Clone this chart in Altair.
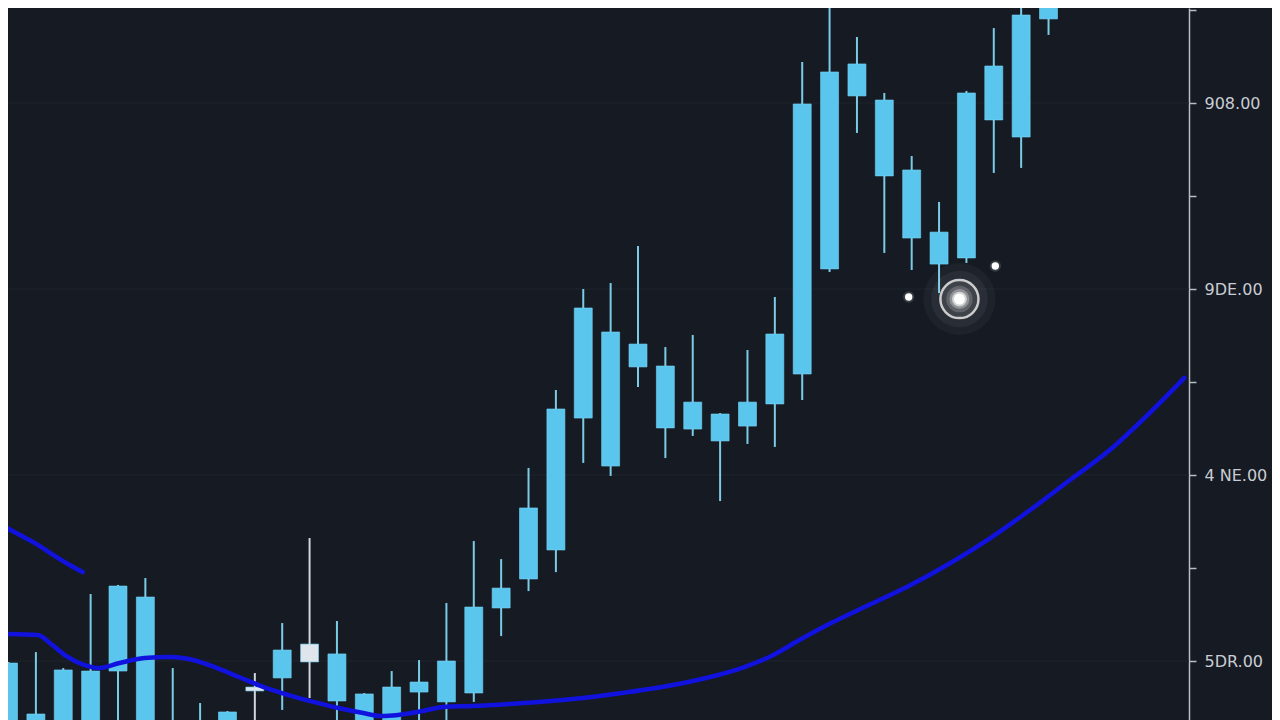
import altair as alt
import pandas as pd

# ---- candle data (index along time, prices) ----
idx = [0, 1, 2, 3, 4, 5, 6, 7, 8, 9, 10, 11, 12, 13, 14, 15, 16, 17, 18, 19,
       20, 21, 22, 23, 24, 25, 26, 27, 28, 29, 30, 31, 32, 33, 34, 35, 36, 37, 38, 40]
opens = [446.8, 446.8, 446.8, 446.8, 494.6, 446.8, 457.5, 446.8, 446.8, 486.0,
         490.9, 509.1, 478.5, 452.2, 452.2, 483.3, 478.0, 482.8, 528.5, 544.1,
         559.7, 630.6, 604.8, 658.1, 625.3, 624.7, 618.3, 626.3, 638.2, 654.3,
         710.8, 803.8, 760.8, 727.4, 713.4, 716.7, 790.9, 781.7, 845.2, 863.4]
closes = [498.9, 471.5, 495.2, 494.6, 540.3, 534.4, 465.6, 462.9, 472.6, 483.9,
          505.9, 499.5, 503.8, 482.3, 486.0, 488.7, 500.0, 529.0, 539.2, 582.3,
          635.5, 689.8, 676.9, 670.4, 658.6, 639.2, 632.8, 639.2, 675.8, 799.5,
          816.7, 821.0, 801.6, 764.0, 730.6, 805.4, 819.9, 847.3, 866.1, 876.9]
highs = [499.5, 504.8, 496.2, 536.0, 540.9, 544.6, 496.2, 477.4, 473.1, 493.5,
         520.4, 566.1, 521.5, 482.8, 494.6, 500.5, 531.2, 564.5, 554.8, 603.8,
         645.7, 700.0, 703.2, 723.1, 668.8, 675.3, 633.3, 667.2, 695.7, 822.0,
         858.1, 835.5, 805.4, 771.5, 746.8, 806.5, 840.3, 854.3, 876.9, 882.3]
lows = [436.0, 436.0, 436.0, 436.0, 462.9, 436.0, 441.4, 438.7, 438.7, 462.9,
        473.7, 480.1, 460.2, 441.4, 441.4, 460.2, 457.5, 478.0, 513.4, 537.6,
        547.8, 606.5, 599.5, 647.3, 609.1, 621.0, 586.0, 616.7, 615.1, 640.3,
        709.1, 783.9, 719.4, 710.2, 697.8, 714.0, 762.4, 765.1, 836.6, 853.8]

# ---- moving average lines ----
ma_idx = [-0.127, 1.073, 1.509, 2.055, 2.782, 3.327, 4.055, 4.964, 5.873, 6.6,
          7.509, 8.418, 9.327, 10.236, 11.145, 12.055, 12.964, 13.618, 14.236, 15.145,
          15.873, 16.964, 18.782, 20.236, 22.418, 23.873, 25.327, 26.782, 27.873, 28.964,
          30.055, 31.509, 32.964, 34.418, 35.873, 37.327, 38.782, 40.236, 41.691, 42.964]
ma_val = [514.5, 514.0, 509.7, 503.2, 497.8, 496.2, 498.9, 501.6, 502.2, 501.1,
          496.8, 491.4, 486.0, 481.7, 478.0, 474.7, 472.0, 470.4, 471.0, 473.1,
          475.3, 475.8, 477.4, 479.0, 482.8, 486.0, 490.3, 496.2, 502.7, 511.8,
          520.4, 530.6, 540.9, 552.7, 566.1, 581.2, 597.3, 613.4, 633.3, 652.2]
ma2_idx = [-0.127, 0.418, 0.964, 1.691, 2.236, 2.709]
ma2_val = [572.0, 567.7, 563.4, 556.5, 551.6, 547.8]

# ---- highlight marker ----
glow_idx = [34.745]
glow_val = [694.6]
dot_idx = [32.891, 36.055]
dot_val = [695.7, 712.4]

# ---- axis ----
tick_values = [500, 550, 600, 650, 700, 750, 800, 850]
label_map = {500: "5DR.00", 600: "4 NE.00", 700: "9DE.00", 800: "908.00"}
grid_values = [500, 600, 700, 800]

BG = "#151a23"
BLUE = "#5ac6ee"
WHITE_BODY = "#dfe5ec"

candles = pd.DataFrame({"i": idx, "open": opens, "close": closes,
                        "high": highs, "low": lows})
ma = pd.DataFrame({"i": ma_idx + ma2_idx, "v": ma_val + ma2_val,
                   "s": ["ma1"] * len(ma_idx) + ["ma2"] * len(ma2_idx)})
glow = pd.DataFrame({"i": glow_idx, "v": glow_val})
dots = pd.DataFrame({"i": dot_idx, "v": dot_val})
grid = pd.DataFrame({"v": grid_values})

xs = alt.Scale(domain=[0.1636, 42.95], nice=False, zero=False)
ys = alt.Scale(domain=[468.28, 851.08], nice=False, zero=False)

label_expr = " : ".join([f"datum.value == {k} ? '{v}'" for k, v in label_map.items()]) + " : ''"

gridl = alt.Chart(grid).mark_rule(color="#1e232d", strokeWidth=1.2).encode(
    y=alt.Y("v:Q", scale=ys,
            axis=alt.Axis(orient="right", values=tick_values, labelExpr=label_expr,
                          grid=False, domainColor="#b9bdc4", domainWidth=1.5,
                          tickColor="#b9bdc4", tickWidth=1.5, tickSize=7,
                          labelColor="#c9cdd3", labelFontSize=16, labelPadding=8,
                          labelFont="DejaVu Sans", title=None)),
)

color_cond = alt.condition("datum.close >= datum.open", alt.value(BLUE), alt.value(WHITE_BODY))

wicks = alt.Chart(candles).mark_rule(strokeWidth=2, clip=True).encode(
    x=alt.X("i:Q", scale=xs, axis=None),
    y=alt.Y("low:Q", scale=ys),
    y2="high:Q",
    color=alt.condition("datum.close >= datum.open", alt.value("#7ccbe6"), alt.value("#cfd6de")),
)

bodies = alt.Chart(candles).mark_bar(size=18, clip=True, stroke="#79d3f3", strokeWidth=0.6).encode(
    x=alt.X("i:Q", scale=xs, axis=None),
    y=alt.Y("open:Q", scale=ys),
    y2="close:Q",
    color=color_cond,
)

lines = alt.Chart(ma).mark_line(strokeWidth=4.5, color="#1212de", interpolate="monotone",
                                clip=True, strokeCap="round").encode(
    x=alt.X("i:Q", scale=xs, axis=None),
    y=alt.Y("v:Q", scale=ys),
    detail="s:N",
)


def glow_layer(df, size, opacity, filled=True, color="#ffffff", sw=0):
    kw = dict(shape="circle", filled=filled, color=color, opacity=opacity, size=size)
    if not filled:
        kw["strokeWidth"] = sw
    return alt.Chart(df).mark_point(**kw).encode(
        x=alt.X("i:Q", scale=xs), y=alt.Y("v:Q", scale=ys))


halo = [
    glow_layer(glow, 5200, 0.04),
    glow_layer(glow, 3200, 0.05),
    glow_layer(glow, 1500, 0.10),
    glow_layer(glow, 1450, 0.9, filled=False, color="#dcdcdc", sw=2.5),
    glow_layer(glow, 700, 0.18),
    glow_layer(glow, 400, 0.3),
    glow_layer(glow, 220, 0.6),
    glow_layer(glow, 120, 1.0),
    glow_layer(dots, 130, 0.15),
    glow_layer(dots, 55, 1.0),
]

chart = alt.layer(gridl, wicks, bodies, lines, *halo).properties(
    width=1181, height=712,
    autosize=alt.AutoSizeParams(type="none"),
    padding={"left": 0, "top": 0, "right": 83, "bottom": 0},
    background=BG,
).configure_view(strokeWidth=0)

chart.save("out.html", embed_options={"renderer": "svg", "actions": False})
